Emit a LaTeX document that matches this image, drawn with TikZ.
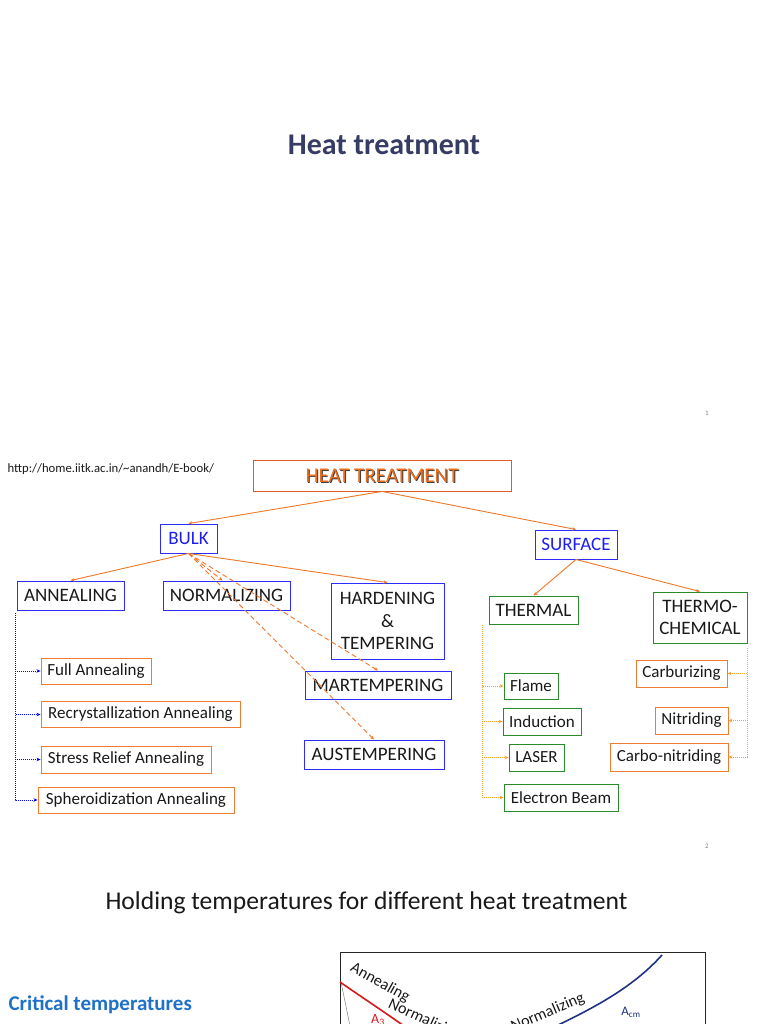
\documentclass[tikz,border=0pt]{standalone}
\usepackage{fontspec}
\setmainfont{Carlito}
\usetikzlibrary{arrows.meta}
\definecolor{obox}{RGB}{237,125,49}
\definecolor{oline}{RGB}{240,120,40}
\definecolor{odotc}{RGB}{250,160,40}
\definecolor{bbox}{RGB}{45,45,255}
\definecolor{btext}{RGB}{30,30,240}
\definecolor{gbox}{RGB}{40,140,40}
\definecolor{htred}{RGB}{222,90,40}
\definecolor{htorange}{RGB}{235,110,30}
\definecolor{navy}{RGB}{55,60,100}
\definecolor{txt}{RGB}{25,25,25}
\definecolor{crit}{RGB}{30,112,200}
\definecolor{acm}{RGB}{30,50,130}
\definecolor{a3red}{RGB}{215,25,30}
\newcommand\fsz[2]{\fontsize{#1}{#2}\selectfont}
\tikzset{
  box/.style={draw, line width=0.9pt, inner sep=0pt, text=txt, font=\fsz{19}{22.5}, align=center},
  bluebox/.style={box, draw=bbox},
  orangebox/.style={box, draw=obox, font=\fsz{17}{20}},
  greenbox/.style={box, draw=gbox},
  greensmall/.style={box, draw=gbox, font=\fsz{17}{20}},
  conn/.style={draw=oline, line width=0.9pt, -{Stealth[length=4pt,width=3.5pt]}},
  dconn/.style={conn, dash pattern=on 5pt off 3pt},
  bdot/.style={draw=blue, line width=0.8pt, dash pattern=on 1pt off 1pt, -{Stealth[length=4pt,width=3.5pt]}},
  odot/.style={draw=odotc, line width=0.8pt, dash pattern=on 1pt off 1pt, -{Stealth[length=4pt,width=3.5pt]}},
  pagenum/.style={text=gray, font=\fsz{7}{8}}
}
\begin{document}
\begin{tikzpicture}[x=1pt,y=-1pt]
\useasboundingbox (0,0) rectangle (768,1024);
\clip (0,0) rectangle (768,1024);
% ---------- slide 1 ----------
\node[text=navy, font=\bfseries\fsz{30}{34}] (title1) at (384,145) {Heat treatment};
\node[pagenum] (p1) at (707,413) {1};
% ---------- slide 2 ----------
\node[anchor=west, text=txt, font=\fsz{12.7}{14}] (url) at (4,469) {http://home.iitk.ac.in/\char`\~anandh/E-book/};
\node[text=black!75, font=\fsz{21}{23}] (htsh) at (383,477) {HEAT TREATMENT};
\node[draw=htred, line width=0.9pt, inner sep=0pt, minimum width=258, minimum height=31, text=htorange, font=\fsz{21}{23}] (ht) at (382,475.5) {HEAT TREATMENT};

\node[bluebox, text=btext, minimum width=57, minimum height=29] (bulk) at (188.5,538.5) {BULK};
\node[bluebox, text=btext, minimum width=82, minimum height=29] (surf) at (576,544.5) {SURFACE};

\node[bluebox, minimum width=107, minimum height=29] (ann) at (70.5,595.5) {ANNEALING};
\node[bluebox, minimum width=127, minimum height=29] (norm) at (226.5,595.5) {NORMALIZING};
\node[bluebox, minimum width=113, minimum height=76] (hard) at (387.5,621) {HARDENING\\\&\\TEMPERING};
\node[bluebox, minimum width=146, minimum height=28] (mart) at (378,685) {MARTEMPERING};
\node[bluebox, minimum width=140, minimum height=29] (aust) at (374,754.5) {AUSTEMPERING};

\node[orangebox, minimum width=110, minimum height=26] (full) at (96,671) {Full Annealing};
\node[orangebox, minimum width=199, minimum height=26] (recr) at (140.5,714.5) {Recrystallization Annealing};
\node[orangebox, minimum width=170, minimum height=27] (stress) at (126,759.5) {Stress Relief Annealing};
\node[orangebox, minimum width=196, minimum height=26] (sphero) at (136,800) {Spheroidization Annealing};

\node[greenbox, minimum width=89, minimum height=28] (therm) at (533.5,610) {THERMAL};
\node[greenbox, minimum width=94, minimum height=51] (chem) at (700,617.5) {THERMO-\\CHEMICAL};

\node[greensmall, minimum width=54, minimum height=26] (flame) at (531,686) {Flame};
\node[greensmall, minimum width=78, minimum height=27] (induc) at (542,721.5) {Induction};
\node[greensmall, minimum width=55, minimum height=27] (laser) at (536.5,757.5) {LASER};
\node[greensmall, minimum width=114, minimum height=27] (ebeam) at (561,797.5) {Electron Beam};

\node[orangebox, minimum width=91, minimum height=27] (carb) at (681.5,673.5) {Carburizing};
\node[orangebox, minimum width=73, minimum height=27] (nitr) at (691.5,720.5) {Nitriding};
\node[orangebox, minimum width=118, minimum height=28] (cnit) at (669,757) {Carbo-nitriding};

% connectors
\draw[conn] (ht.south) -- (bulk.north);
\draw[conn] (ht.south) -- (surf.north);
\draw[conn] (bulk.south) -- (ann.north);
\draw[dconn] (bulk.south) -- ([xshift=-4pt]norm.north);
\draw[conn] (bulk.south) -- (hard.north);
\draw[dconn] (bulk.south) -- (mart.north);
\draw[dconn] (bulk.south) -- (aust.north);
\draw[conn] (surf.south) -- (therm.north);
\draw[conn] (surf.south) -- (chem.north);

\coordinate (a0) at (15,613);
\draw[bdot] (a0) |- (full.west);
\draw[bdot] (a0) |- (recr.west);
\draw[bdot] (a0) |- (stress.west);
\draw[bdot] (a0) |- (sphero.west);

\coordinate (t0) at (482,625);
\draw[odot] (t0) |- (flame.west);
\draw[odot] (t0) |- (induc.west);
\draw[odot] (t0) |- (laser.west);
\draw[odot] (t0) |- (ebeam.west);

\coordinate (c0) at (747,648);
\draw[odot] (c0) |- (carb.east);
\draw[odot] (c0) |- (nitr.east);
\draw[odot] (c0) |- (cnit.east);

\node[pagenum] (p2) at (707,846) {2};
% ---------- slide 3 ----------
\node[text=txt, font=\fsz{25.6}{29}] (title3) at (366.5,903) {Holding temperatures for different heat treatment};
\node[anchor=base west, text=crit, font=\bfseries\fsz{21}{24}] (crit) at (5,1010) {Critical temperatures};

\draw[line width=0.9pt, black!85] (340,952) rectangle (705,1060);
\draw[gray, line width=0.5pt] (341,982) -- (350,1026);
\draw[a3red, line width=1.6pt] (340,982) .. controls (360,996) and (380,1009) .. (404,1026);
\draw[acm, line width=1.6pt] (556,1026) .. controls (600,1005) and (635,985) .. (662,955);
\node[rotate=-29, text=txt, font=\fsz{16}{18}] (lann) at (380,983) {Annealing};
\node[rotate=-25, anchor=west, text=txt, font=\fsz{16}{18}] (lnorm1) at (386,1002) {Normalizing};
\node[rotate=23, anchor=east, text=txt, font=\fsz{16}{18}] (lnorm2) at (587,996) {Normalizing};
\node[text=a3red, font=\fsz{14}{16}] (la3) at (378,1020) {A\textsubscript{3}};
\node[text=acm, font=\fsz{13}{15}] (lacm) at (631,1012) {A\textsubscript{cm}};
\end{tikzpicture}
\end{document}
